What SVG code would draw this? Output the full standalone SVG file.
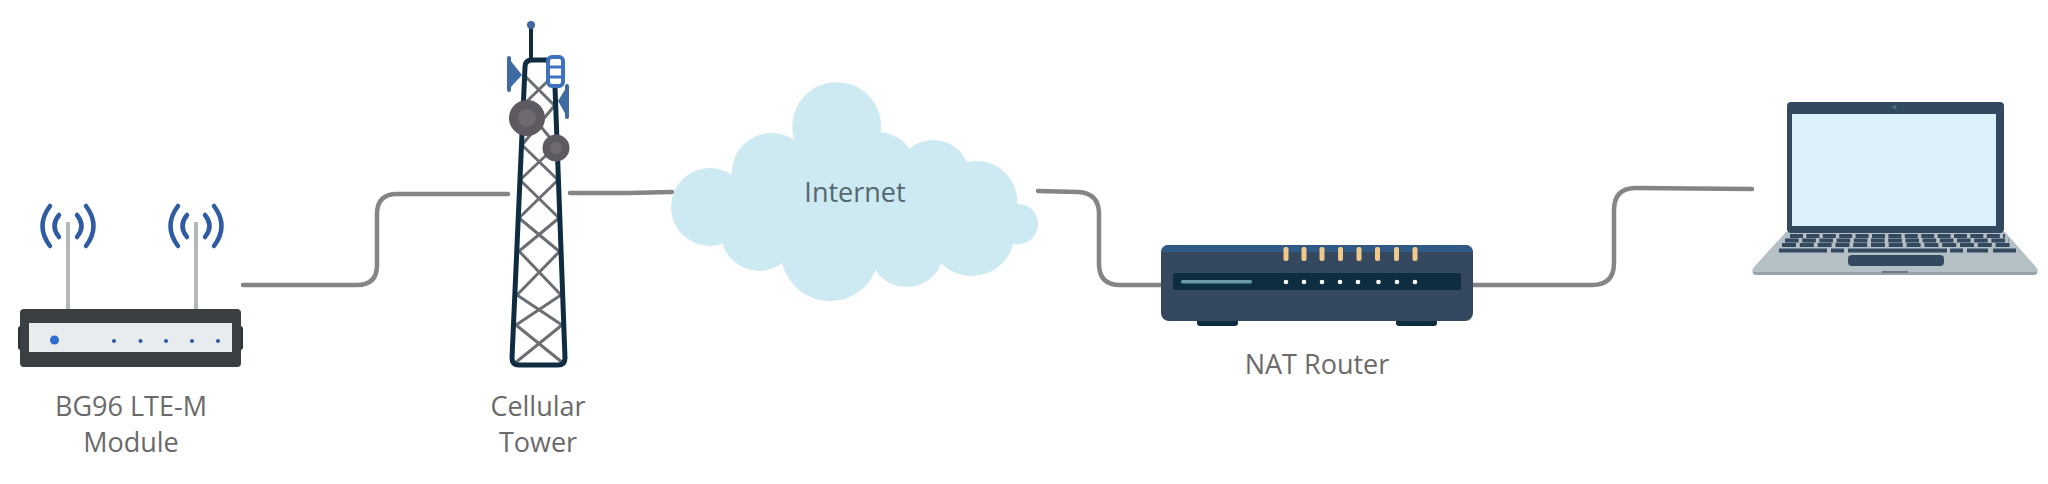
<svg xmlns="http://www.w3.org/2000/svg" width="2048" height="484" viewBox="0 0 2048 484">
<style>
text{font-family:"Open Sans","Noto Sans","Liberation Sans",sans-serif;font-size:27px;fill:#6a6a6a;text-anchor:middle}
.conn{fill:none;stroke:#858585;stroke-width:4.500;stroke-linecap:round}
.wave{fill:none;stroke:#2f5ba3;stroke-width:4.500;stroke-linecap:round}
.brace{stroke:#6b6f73;stroke-width:3;fill:none}
.leg{stroke:#0f2c40;stroke-width:5;fill:none;stroke-linejoin:round}
.key{stroke:#33495f;stroke-width:4;fill:none}
.led{fill:#fff}
.tab{fill:#f0c98a}
.mini{fill:#2f5ba3}
</style>
<g id="connectors">
<path class="conn" d="M243 285H357Q377 285 377 265V214Q377 194 397 194H508"/>
<path class="conn" d="M570 193H628L672 192"/>
<path class="conn" d="M1038 191L1078 192Q1099 193 1099 214V264Q1099 285 1120 285H1163"/>
<path class="conn" d="M1473 285H1592Q1614 285 1614 263V210Q1614 188 1636 188L1752 189"/>
</g>
<g id="module">
<path d="M68 222V310M196 222V310" stroke="#b5b8ba" stroke-width="4"/>
<g id="waves">
<path class="wave" d="M50 206Q35 226 50 246M86 206Q101 226 86 246M59 215Q50 226 59 237M77 215Q86 226 77 237"/>
<path class="wave" d="M178 206Q163 226 178 246M214 206Q229 226 214 246M187 215Q178 226 187 237M205 215Q214 226 205 237"/>
</g>
<rect x="18" y="326" width="225" height="24" rx="3" fill="#2f3337"/>
<rect x="20" y="309" width="221" height="58" rx="4" fill="#3a3f44"/>
<rect x="29" y="323" width="203" height="29" fill="#e9ecef"/>
<circle cx="54.500" cy="340" r="4.500" fill="#2d6cd0"/>
<circle class="mini" cx="114" cy="341" r="2"/>
<circle class="mini" cx="140.500" cy="341" r="2"/>
<circle class="mini" cx="166" cy="341" r="2"/>
<circle class="mini" cx="192" cy="341" r="2"/>
<circle class="mini" cx="218" cy="341" r="2"/>
<text x="131" y="416">BG96 LTE-M</text>
<text x="131" y="452">Module</text>
</g>
<g id="tower">
<path class="brace" d="M524 75L554 105M554 75L523 105M523 105L556 145M555 105L522 145M522 145L558 180M557 145L520 180M520 180L559 218M558 180L519 218M519 218L560 252M559 218L518 252M518 250L561 295M559 252L517 295M517 295L562 325M561 295L516 325M516 325L563 363M562 325L515 363"/>
<path d="M531 25V58" stroke="#0f2c40" stroke-width="4"/>
<circle cx="531" cy="25" r="4" fill="#3f6aa3"/>
<path class="leg" d="M550 60H532Q525 60 525 67L512 358Q512 365 519 365H558Q565 365 565 358L555 87"/>
<path d="M509 58V90" stroke="#3f6aa3" stroke-width="4" stroke-linecap="round"/>
<path d="M510 60L522 75L510 88Z" fill="#3f6aa3"/>
<path d="M567 86V117" stroke="#3f6aa3" stroke-width="4" stroke-linecap="round"/>
<path d="M566 88L558 101L566 115Z" fill="#3f6aa3"/>
<rect x="548" y="57" width="15" height="29" rx="4" fill="#fff" stroke="#3f72bd" stroke-width="4"/>
<path d="M548 67H563M548 77H563" stroke="#3f72bd" stroke-width="3"/>
<circle cx="527" cy="118" r="18" fill="#5f5a62"/>
<circle cx="527" cy="118" r="9" fill="#6e6a72"/>
<circle cx="556" cy="148" r="13.500" fill="#5f5a62"/>
<circle cx="556" cy="148" r="6" fill="#6e6a72"/>
<text x="538" y="416">Cellular</text>
<text x="538" y="452">Tower</text>
</g>
<g id="internet">
<g fill="#cde9f1">
<circle cx="836.700" cy="126.700" r="44.500"/>
<circle cx="771.700" cy="173" r="40"/>
<circle cx="710" cy="207" r="39"/>
<circle cx="759" cy="233" r="38"/>
<circle cx="830" cy="252" r="49"/>
<circle cx="906.700" cy="250" r="37"/>
<circle cx="971.700" cy="233" r="43"/>
<circle cx="976.700" cy="201.700" r="40.700"/>
<circle cx="1018" cy="224" r="20"/>
<circle cx="933" cy="177" r="37"/>
<circle cx="878" cy="170" r="38"/>
<ellipse cx="860" cy="210" rx="135" ry="60"/>
</g>
<text x="855" y="202" style="fill:#56686f">Internet</text>
</g>
<g id="router">
<rect x="1197" y="316" width="41" height="10" rx="3" fill="#0e2d40"/>
<rect x="1396" y="316" width="41" height="10" rx="3" fill="#0e2d40"/>
<rect x="1161" y="245" width="312" height="76" rx="8" fill="#34495f"/>
<path d="M1161 252a7 7 0 0 1 7-7H1466a7 7 0 0 1 7 7Z" fill="#2f5a85"/>
<rect x="1173" y="273" width="288" height="17" rx="2" fill="#0e2d40"/>
<rect x="1181" y="280" width="71" height="3.500" rx="1.500" fill="#6a9aa5"/>
<rect class="tab" x="1283.500" y="247" width="5" height="14" rx="2"/>
<rect class="tab" x="1301.500" y="247" width="5" height="14" rx="2"/>
<rect class="tab" x="1319.500" y="247" width="5" height="14" rx="2"/>
<rect class="tab" x="1338" y="247" width="5" height="14" rx="2"/>
<rect class="tab" x="1356.500" y="247" width="5" height="14" rx="2"/>
<rect class="tab" x="1375" y="247" width="5" height="14" rx="2"/>
<rect class="tab" x="1394" y="247" width="5" height="14" rx="2"/>
<rect class="tab" x="1412.500" y="247" width="5" height="14" rx="2"/>
<circle class="led" cx="1286" cy="282" r="2.300"/>
<circle class="led" cx="1304" cy="282" r="2.300"/>
<circle class="led" cx="1322" cy="282" r="2.300"/>
<circle class="led" cx="1340" cy="282" r="2.300"/>
<circle class="led" cx="1358" cy="282" r="2.300"/>
<circle class="led" cx="1378.500" cy="282" r="2.300"/>
<circle class="led" cx="1397" cy="282" r="2.300"/>
<circle class="led" cx="1415" cy="282" r="2.300"/>
<text x="1317" y="374">NAT Router</text>
</g>
<g id="laptop">
<path d="M1786 232H2005L2036 267Q2039 271 2037 272V273Q2036 275 2033 275H1757Q1754 275 1753 273V272Q1751 271 1754 267Z" fill="#b4bfc6"/>
<path d="M1752.500 272H2037.500Q2037 275 2033 275H1757Q1753 275 1752.500 272Z" fill="#98a3a9"/>
<rect x="1787" y="102" width="217" height="131" rx="4" fill="#33495f"/>
<rect x="1792" y="114" width="204" height="112" fill="#dcf0fa"/>
<circle cx="1894.500" cy="107" r="2" fill="#4f6d8a"/>
<path class="key" d="M1790 236H2005" stroke-dasharray="13 3.400"/>
<path class="key" d="M1785 240.500H2009" stroke-dasharray="13.600 3.600"/>
<path class="key" d="M1782 245H2013" stroke-dasharray="14 3.800"/>
<path class="key" d="M1779 250.500H1827M1831 250.500H1844M1848 250.500H1947M1950 250.500H1963M1967 250.500H1988M1993 250.500H2016"/>
<rect x="1848" y="255" width="96" height="11" rx="4" fill="#33495f"/>
<rect x="1882" y="271" width="26" height="2" fill="#6f7a80"/>
</g>
</svg>
